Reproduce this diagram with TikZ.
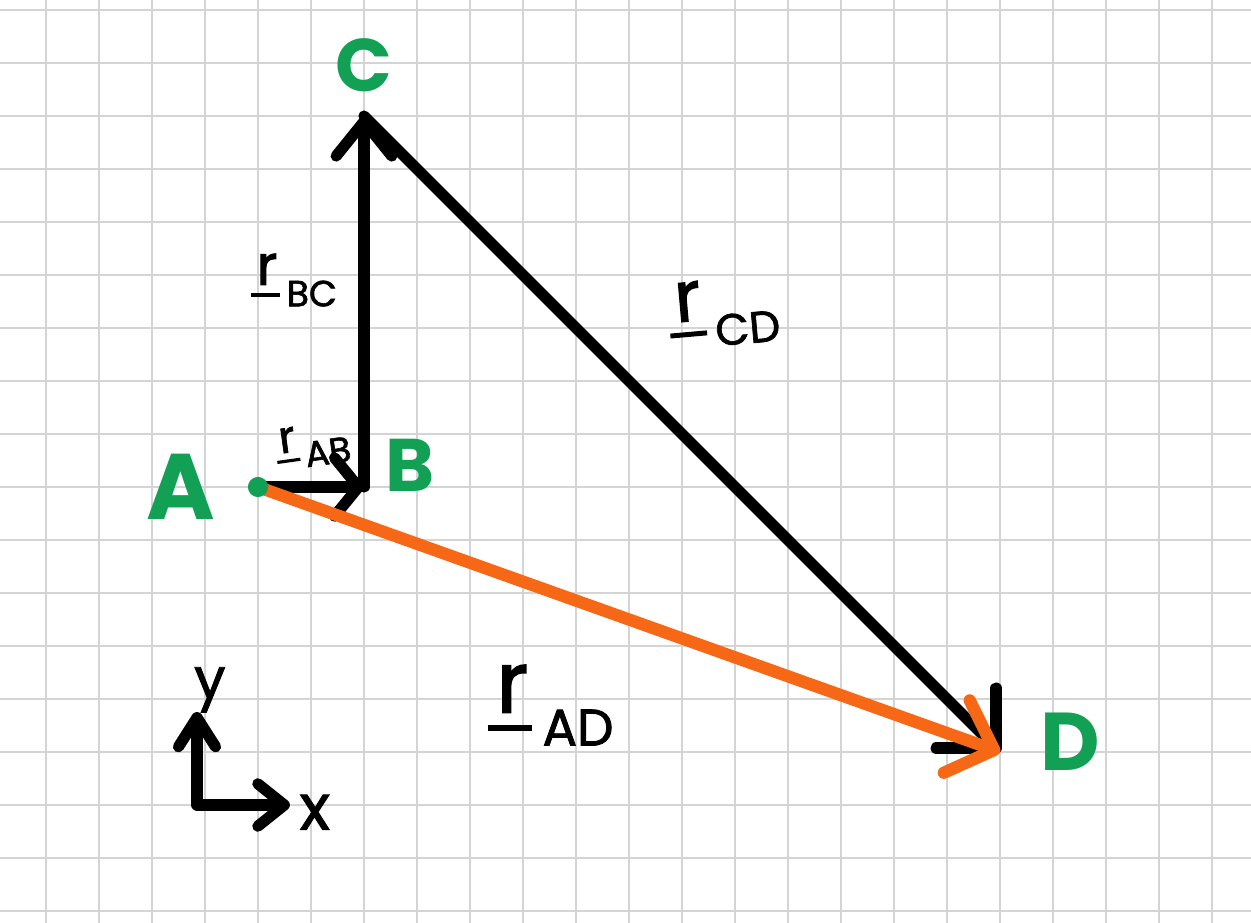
\documentclass[tikz,border=0pt]{standalone}
\usepackage{fontspec}
\setmainfont{Poppins}
\usetikzlibrary{arrows.meta}
\usetikzlibrary{positioning}
\definecolor{ptgreen}{RGB}{18,160,84}
\definecolor{vecorange}{RGB}{246,104,22}
\newcommand{\ur}{\leavevmode\rlap{\kern-0.1em\rule[-0.22em]{0.52em}{0.07em}}r}
\newcommand{\rsub}[2]{\ur\,\raisebox{-0.7ex}{\scalebox{#1}{#2}}}

\begin{document}
\begin{tikzpicture}[
    gridline/.style={line width=1.3pt, black!17},
    vec/.style={line width=6pt, line cap=round},
    ptlabel/.style={text=ptgreen, inner sep=0pt, font=\bfseries\fontsize{#1}{#1}\selectfont},
    veclabel/.style={inner sep=0pt, font=\fontsize{#1}{#1}\selectfont\addfontfeatures{FakeBold=1.6}}]
  \fill[white] (0,0) rectangle (23.604,17.415);
  \useasboundingbox (0,0) rectangle (23.604,17.415);
  \foreach \i in {0,...,22} \draw[gridline] (\i+0.868,0) -- (\i+0.868,17.415);
  \foreach \j in {0,...,17} \draw[gridline] (0,\j+0.226) -- (23.604,\j+0.226);

  \coordinate (A) at (4.868,8.226);
  \coordinate (B) at (6.868,8.226);
  \coordinate (C) at (6.868,15.226);
  \coordinate (D) at (18.868,3.226);
  \coordinate (O) at (3.717,2.226);
  \coordinate (Ox) at (5.47,2.226);
  \coordinate (Oy) at (3.717,3.98);

  \draw[vec, -{Straight Barb[round,length=0.8cm,width=1.6cm]}] (C) -- (D);
  \draw[vec, -{Straight Barb[round,length=0.65cm,width=1.05cm]}] (B) -- (C);
  \draw[vec, -{Straight Barb[round,length=0.45cm,width=1.1cm]}] (A) -- (B);
  \draw[vec, line width=6.6pt, vecorange, -{Straight Barb[round,length=0.75cm,width=1.45cm]}] (A) -- (D);
  \fill[ptgreen] (A) circle (0.19);

  \draw[vec, -{Straight Barb[round,length=0.55cm,width=0.7cm]}] (O) -- (Oy);
  \draw[vec, -{Straight Barb[round,length=0.5cm,width=0.8cm]}] (O) -- (Ox);

  \node[ptlabel=50, left=0.81cm of A] (lA) {A};
  \node[ptlabel=40, right=0.4cm of B, yshift=0.4cm] (lB) {B};
  \node[ptlabel=40, above=0.45cm of C] (lC) {C};
  \node[ptlabel=44, right=0.75cm of D, yshift=0.2cm] (lD) {D};

  \node[veclabel=24, rotate=8] (rAB) at (5.94,9.02) {\rsub{0.8}{AB}};
  \node[veclabel=30] (rBC) at (5.6,12.13) {\rsub{0.65}{BC}};
  \node[veclabel=38, rotate=5] (rCD) at (13.72,11.53) {\rsub{0.62}{CD}};
  \node[veclabel=46] (rAD) at (10.47,4.11) {\rsub{0.6}{AD}};

  \node[veclabel=34] (lx) at (5.94,2.09) {x};
  \node[veclabel=30] (ly) at (3.96,4.40) {y};
\end{tikzpicture}
\end{document}
